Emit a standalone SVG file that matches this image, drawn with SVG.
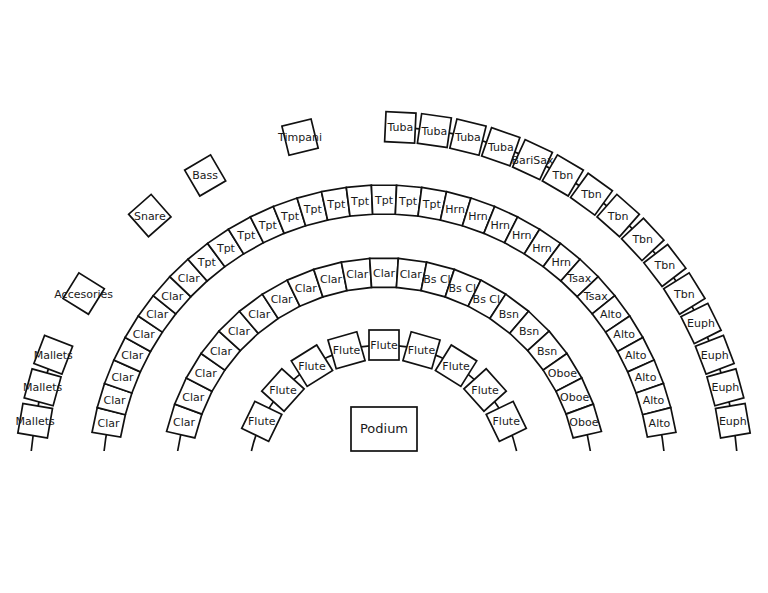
<svg xmlns="http://www.w3.org/2000/svg" xmlns:xlink="http://www.w3.org/1999/xlink" width="768" height="593" viewBox="0 0 768 593">
<style>
.bg{fill:#ffffff}
.box{fill:#ffffff;stroke:#111111;stroke-width:1.7}
.arc{fill:none;stroke:#111111;stroke-width:1.7}
.lbl{font-family:"DejaVu Sans","Liberation Sans",sans-serif;font-size:11px;fill:#1a1a1a;text-anchor:middle}
.big{font-family:"DejaVu Sans","Liberation Sans",sans-serif;font-size:13px;fill:#1a1a1a;text-anchor:middle}
</style>
<defs>
<rect id="sq1" class="box" x="369" y="330" width="30" height="30"/>
<rect id="sq4" class="box" x="369" y="112" width="30" height="30"/>
<path id="w2" class="box" d="M369.71,258.46 L398.29,258.46 L396.44,287.40 L371.56,287.40 Z"/>
<path id="w3" class="box" d="M371.40,185.27 L396.60,185.27 L395.37,214.24 L372.63,214.24 Z"/>
</defs>
<rect class="bg" x="0" y="0" width="768" height="593"/>
<g id="connectors">
<path class="arc" d="M251.4,451 A136,136 0 0 1 516.6,451"/>
<path class="arc" d="M177.67,451 A208.5,208.5 0 0 1 590.33,451"/>
<path class="arc" d="M104.1,451 A281.5,281.5 0 0 1 663.9,451"/>
<path class="arc" d="M400.31,127.38 A354,354 0 0 1 736.73,451"/>
<path class="arc" d="M31.27,451 A354,354 0 0 1 53.25,354.83"/>
</g>
<g id="podium"><rect class="box" x="351" y="407" width="66" height="44"/><text class="big" x="384" y="433">Podium</text></g>
<!-- Ring 1: Flutes -->
<g id="flute-1" transform="rotate(-64 384 481)"><use xlink:href="#sq1"/><text class="lbl" x="384" y="349" transform="rotate(64 384 345)">Flute</text></g>
<g id="flute-2" transform="rotate(-48 384 481)"><use xlink:href="#sq1"/><text class="lbl" x="384" y="349" transform="rotate(48 384 345)">Flute</text></g>
<g id="flute-3" transform="rotate(-32 384 481)"><use xlink:href="#sq1"/><text class="lbl" x="384" y="349" transform="rotate(32 384 345)">Flute</text></g>
<g id="flute-4" transform="rotate(-16 384 481)"><use xlink:href="#sq1"/><text class="lbl" x="384" y="349" transform="rotate(16 384 345)">Flute</text></g>
<g id="flute-5"><use xlink:href="#sq1"/><text class="lbl" x="384" y="349">Flute</text></g>
<g id="flute-6" transform="rotate(16 384 481)"><use xlink:href="#sq1"/><text class="lbl" x="384" y="349" transform="rotate(-16 384 345)">Flute</text></g>
<g id="flute-7" transform="rotate(32 384 481)"><use xlink:href="#sq1"/><text class="lbl" x="384" y="349" transform="rotate(-32 384 345)">Flute</text></g>
<g id="flute-8" transform="rotate(48 384 481)"><use xlink:href="#sq1"/><text class="lbl" x="384" y="349" transform="rotate(-48 384 345)">Flute</text></g>
<g id="flute-9" transform="rotate(64 384 481)"><use xlink:href="#sq1"/><text class="lbl" x="384" y="349" transform="rotate(-64 384 345)">Flute</text></g>
<!-- Ring 2 -->
<g id="r2-clar-1" transform="rotate(-73.5 384 481)"><use xlink:href="#w2"/><text class="lbl" x="384" y="276.5" transform="rotate(73.5 384 272.5)">Clar</text></g>
<g id="r2-clar-2" transform="rotate(-66.15 384 481)"><use xlink:href="#w2"/><text class="lbl" x="384" y="276.5" transform="rotate(66.15 384 272.5)">Clar</text></g>
<g id="r2-clar-3" transform="rotate(-58.8 384 481)"><use xlink:href="#w2"/><text class="lbl" x="384" y="276.5" transform="rotate(58.8 384 272.5)">Clar</text></g>
<g id="r2-clar-4" transform="rotate(-51.45 384 481)"><use xlink:href="#w2"/><text class="lbl" x="384" y="276.5" transform="rotate(51.45 384 272.5)">Clar</text></g>
<g id="r2-clar-5" transform="rotate(-44.1 384 481)"><use xlink:href="#w2"/><text class="lbl" x="384" y="276.5" transform="rotate(44.1 384 272.5)">Clar</text></g>
<g id="r2-clar-6" transform="rotate(-36.75 384 481)"><use xlink:href="#w2"/><text class="lbl" x="384" y="276.5" transform="rotate(36.75 384 272.5)">Clar</text></g>
<g id="r2-clar-7" transform="rotate(-29.4 384 481)"><use xlink:href="#w2"/><text class="lbl" x="384" y="276.5" transform="rotate(29.4 384 272.5)">Clar</text></g>
<g id="r2-clar-8" transform="rotate(-22.05 384 481)"><use xlink:href="#w2"/><text class="lbl" x="384" y="276.5" transform="rotate(22.05 384 272.5)">Clar</text></g>
<g id="r2-clar-9" transform="rotate(-14.7 384 481)"><use xlink:href="#w2"/><text class="lbl" x="384" y="276.5" transform="rotate(14.7 384 272.5)">Clar</text></g>
<g id="r2-clar-10" transform="rotate(-7.35 384 481)"><use xlink:href="#w2"/><text class="lbl" x="384" y="276.5" transform="rotate(7.35 384 272.5)">Clar</text></g>
<g id="r2-clar-11"><use xlink:href="#w2"/><text class="lbl" x="384" y="276.5">Clar</text></g>
<g id="r2-clar-12" transform="rotate(7.35 384 481)"><use xlink:href="#w2"/><text class="lbl" x="384" y="276.5" transform="rotate(-7.35 384 272.5)">Clar</text></g>
<g id="r2-bscl-1" transform="rotate(14.7 384 481)"><use xlink:href="#w2"/><text class="lbl" x="384" y="276.5" transform="rotate(-14.7 384 272.5)">Bs Cl</text></g>
<g id="r2-bscl-2" transform="rotate(22.05 384 481)"><use xlink:href="#w2"/><text class="lbl" x="384" y="276.5" transform="rotate(-22.05 384 272.5)">Bs Cl</text></g>
<g id="r2-bscl-3" transform="rotate(29.4 384 481)"><use xlink:href="#w2"/><text class="lbl" x="384" y="276.5" transform="rotate(-29.4 384 272.5)">Bs Cl</text></g>
<g id="r2-bsn-1" transform="rotate(36.75 384 481)"><use xlink:href="#w2"/><text class="lbl" x="384" y="276.5" transform="rotate(-36.75 384 272.5)">Bsn</text></g>
<g id="r2-bsn-2" transform="rotate(44.1 384 481)"><use xlink:href="#w2"/><text class="lbl" x="384" y="276.5" transform="rotate(-44.1 384 272.5)">Bsn</text></g>
<g id="r2-bsn-3" transform="rotate(51.45 384 481)"><use xlink:href="#w2"/><text class="lbl" x="384" y="276.5" transform="rotate(-51.45 384 272.5)">Bsn</text></g>
<g id="r2-oboe-1" transform="rotate(58.8 384 481)"><use xlink:href="#w2"/><text class="lbl" x="384" y="276.5" transform="rotate(-58.8 384 272.5)">Oboe</text></g>
<g id="r2-oboe-2" transform="rotate(66.15 384 481)"><use xlink:href="#w2"/><text class="lbl" x="384" y="276.5" transform="rotate(-66.15 384 272.5)">Oboe</text></g>
<g id="r2-oboe-3" transform="rotate(73.5 384 481)"><use xlink:href="#w2"/><text class="lbl" x="384" y="276.5" transform="rotate(-73.5 384 272.5)">Oboe</text></g>
<!-- Ring 3 -->
<g id="r3-clar-1" transform="rotate(-78.08 384 481)"><use xlink:href="#w3"/><text class="lbl" x="384" y="203.5" transform="rotate(78.08 384 199.5)">Clar</text></g>
<g id="r3-clar-2" transform="rotate(-73.2 384 481)"><use xlink:href="#w3"/><text class="lbl" x="384" y="203.5" transform="rotate(73.2 384 199.5)">Clar</text></g>
<g id="r3-clar-3" transform="rotate(-68.32 384 481)"><use xlink:href="#w3"/><text class="lbl" x="384" y="203.5" transform="rotate(68.32 384 199.5)">Clar</text></g>
<g id="r3-clar-4" transform="rotate(-63.44 384 481)"><use xlink:href="#w3"/><text class="lbl" x="384" y="203.5" transform="rotate(63.44 384 199.5)">Clar</text></g>
<g id="r3-clar-5" transform="rotate(-58.56 384 481)"><use xlink:href="#w3"/><text class="lbl" x="384" y="203.5" transform="rotate(58.56 384 199.5)">Clar</text></g>
<g id="r3-clar-6" transform="rotate(-53.68 384 481)"><use xlink:href="#w3"/><text class="lbl" x="384" y="203.5" transform="rotate(53.68 384 199.5)">Clar</text></g>
<g id="r3-clar-7" transform="rotate(-48.8 384 481)"><use xlink:href="#w3"/><text class="lbl" x="384" y="203.5" transform="rotate(48.8 384 199.5)">Clar</text></g>
<g id="r3-clar-8" transform="rotate(-43.92 384 481)"><use xlink:href="#w3"/><text class="lbl" x="384" y="203.5" transform="rotate(43.92 384 199.5)">Clar</text></g>
<g id="r3-tpt-1" transform="rotate(-39.04 384 481)"><use xlink:href="#w3"/><text class="lbl" x="384" y="203.5" transform="rotate(39.04 384 199.5)">Tpt</text></g>
<g id="r3-tpt-2" transform="rotate(-34.16 384 481)"><use xlink:href="#w3"/><text class="lbl" x="384" y="203.5" transform="rotate(34.16 384 199.5)">Tpt</text></g>
<g id="r3-tpt-3" transform="rotate(-29.28 384 481)"><use xlink:href="#w3"/><text class="lbl" x="384" y="203.5" transform="rotate(29.28 384 199.5)">Tpt</text></g>
<g id="r3-tpt-4" transform="rotate(-24.4 384 481)"><use xlink:href="#w3"/><text class="lbl" x="384" y="203.5" transform="rotate(24.4 384 199.5)">Tpt</text></g>
<g id="r3-tpt-5" transform="rotate(-19.52 384 481)"><use xlink:href="#w3"/><text class="lbl" x="384" y="203.5" transform="rotate(19.52 384 199.5)">Tpt</text></g>
<g id="r3-tpt-6" transform="rotate(-14.64 384 481)"><use xlink:href="#w3"/><text class="lbl" x="384" y="203.5" transform="rotate(14.64 384 199.5)">Tpt</text></g>
<g id="r3-tpt-7" transform="rotate(-9.76 384 481)"><use xlink:href="#w3"/><text class="lbl" x="384" y="203.5" transform="rotate(9.76 384 199.5)">Tpt</text></g>
<g id="r3-tpt-8" transform="rotate(-4.88 384 481)"><use xlink:href="#w3"/><text class="lbl" x="384" y="203.5" transform="rotate(4.88 384 199.5)">Tpt</text></g>
<g id="r3-tpt-9"><use xlink:href="#w3"/><text class="lbl" x="384" y="203.5">Tpt</text></g>
<g id="r3-tpt-10" transform="rotate(4.88 384 481)"><use xlink:href="#w3"/><text class="lbl" x="384" y="203.5" transform="rotate(-4.88 384 199.5)">Tpt</text></g>
<g id="r3-tpt-11" transform="rotate(9.76 384 481)"><use xlink:href="#w3"/><text class="lbl" x="384" y="203.5" transform="rotate(-9.76 384 199.5)">Tpt</text></g>
<g id="r3-hrn-1" transform="rotate(14.64 384 481)"><use xlink:href="#w3"/><text class="lbl" x="384" y="203.5" transform="rotate(-14.64 384 199.5)">Hrn</text></g>
<g id="r3-hrn-2" transform="rotate(19.52 384 481)"><use xlink:href="#w3"/><text class="lbl" x="384" y="203.5" transform="rotate(-19.52 384 199.5)">Hrn</text></g>
<g id="r3-hrn-3" transform="rotate(24.4 384 481)"><use xlink:href="#w3"/><text class="lbl" x="384" y="203.5" transform="rotate(-24.4 384 199.5)">Hrn</text></g>
<g id="r3-hrn-4" transform="rotate(29.28 384 481)"><use xlink:href="#w3"/><text class="lbl" x="384" y="203.5" transform="rotate(-29.28 384 199.5)">Hrn</text></g>
<g id="r3-hrn-5" transform="rotate(34.16 384 481)"><use xlink:href="#w3"/><text class="lbl" x="384" y="203.5" transform="rotate(-34.16 384 199.5)">Hrn</text></g>
<g id="r3-hrn-6" transform="rotate(39.04 384 481)"><use xlink:href="#w3"/><text class="lbl" x="384" y="203.5" transform="rotate(-39.04 384 199.5)">Hrn</text></g>
<g id="r3-tsax-1" transform="rotate(43.92 384 481)"><use xlink:href="#w3"/><text class="lbl" x="384" y="203.5" transform="rotate(-43.92 384 199.5)">Tsax</text></g>
<g id="r3-tsax-2" transform="rotate(48.8 384 481)"><use xlink:href="#w3"/><text class="lbl" x="384" y="203.5" transform="rotate(-48.8 384 199.5)">Tsax</text></g>
<g id="r3-alto-1" transform="rotate(53.68 384 481)"><use xlink:href="#w3"/><text class="lbl" x="384" y="203.5" transform="rotate(-53.68 384 199.5)">Alto</text></g>
<g id="r3-alto-2" transform="rotate(58.56 384 481)"><use xlink:href="#w3"/><text class="lbl" x="384" y="203.5" transform="rotate(-58.56 384 199.5)">Alto</text></g>
<g id="r3-alto-3" transform="rotate(63.44 384 481)"><use xlink:href="#w3"/><text class="lbl" x="384" y="203.5" transform="rotate(-63.44 384 199.5)">Alto</text></g>
<g id="r3-alto-4" transform="rotate(68.32 384 481)"><use xlink:href="#w3"/><text class="lbl" x="384" y="203.5" transform="rotate(-68.32 384 199.5)">Alto</text></g>
<g id="r3-alto-5" transform="rotate(73.2 384 481)"><use xlink:href="#w3"/><text class="lbl" x="384" y="203.5" transform="rotate(-73.2 384 199.5)">Alto</text></g>
<g id="r3-alto-6" transform="rotate(78.08 384 481)"><use xlink:href="#w3"/><text class="lbl" x="384" y="203.5" transform="rotate(-78.08 384 199.5)">Alto</text></g>
<!-- Ring 4 left: percussion -->
<g id="mallets-1" transform="rotate(-80.2 384 481)"><use xlink:href="#sq4"/><text class="lbl" x="384" y="131" transform="rotate(80.2 384 127)">Mallets</text></g>
<g id="mallets-2" transform="rotate(-74.66 384 481)"><use xlink:href="#sq4"/><text class="lbl" x="384" y="131" transform="rotate(74.66 384 127)">Mallets</text></g>
<g id="mallets-3" transform="rotate(-69.12 384 481)"><use xlink:href="#sq4"/><text class="lbl" x="384" y="131" transform="rotate(69.12 384 127)">Mallets</text></g>
<g id="accesories" transform="rotate(-58.04 384 481)"><use xlink:href="#sq4"/><text class="lbl" x="384" y="131" transform="rotate(58.04 384 127)">Accesories</text></g>
<g id="snare" transform="rotate(-41.42 384 481)"><use xlink:href="#sq4"/><text class="lbl" x="384" y="131" transform="rotate(41.42 384 127)">Snare</text></g>
<g id="bass" transform="rotate(-30.34 384 481)"><use xlink:href="#sq4"/><text class="lbl" x="384" y="131" transform="rotate(30.34 384 127)">Bass</text></g>
<g id="timpani" transform="rotate(-13.72 384 481)"><use xlink:href="#sq4"/><text class="lbl" x="384" y="131" transform="rotate(13.72 384 127)">Timpani</text></g>
<!-- Ring 4 right: low brass -->
<g id="tuba-1" transform="rotate(2.64 384 481)"><use xlink:href="#sq4"/><text class="lbl" x="384" y="131" transform="rotate(-2.64 384 127)">Tuba</text></g>
<g id="tuba-2" transform="rotate(8.18 384 481)"><use xlink:href="#sq4"/><text class="lbl" x="384" y="131" transform="rotate(-8.18 384 127)">Tuba</text></g>
<g id="tuba-3" transform="rotate(13.72 384 481)"><use xlink:href="#sq4"/><text class="lbl" x="384" y="131" transform="rotate(-13.72 384 127)">Tuba</text></g>
<g id="tuba-4" transform="rotate(19.26 384 481)"><use xlink:href="#sq4"/><text class="lbl" x="384" y="131" transform="rotate(-19.26 384 127)">Tuba</text></g>
<g id="barisax" transform="rotate(24.8 384 481)"><use xlink:href="#sq4"/><text class="lbl" x="384" y="131" transform="rotate(-24.8 384 127)">BariSax</text></g>
<g id="tbn-1" transform="rotate(30.34 384 481)"><use xlink:href="#sq4"/><text class="lbl" x="384" y="131" transform="rotate(-30.34 384 127)">Tbn</text></g>
<g id="tbn-2" transform="rotate(35.88 384 481)"><use xlink:href="#sq4"/><text class="lbl" x="384" y="131" transform="rotate(-35.88 384 127)">Tbn</text></g>
<g id="tbn-3" transform="rotate(41.42 384 481)"><use xlink:href="#sq4"/><text class="lbl" x="384" y="131" transform="rotate(-41.42 384 127)">Tbn</text></g>
<g id="tbn-4" transform="rotate(46.96 384 481)"><use xlink:href="#sq4"/><text class="lbl" x="384" y="131" transform="rotate(-46.96 384 127)">Tbn</text></g>
<g id="tbn-5" transform="rotate(52.5 384 481)"><use xlink:href="#sq4"/><text class="lbl" x="384" y="131" transform="rotate(-52.5 384 127)">Tbn</text></g>
<g id="tbn-6" transform="rotate(58.04 384 481)"><use xlink:href="#sq4"/><text class="lbl" x="384" y="131" transform="rotate(-58.04 384 127)">Tbn</text></g>
<g id="euph-1" transform="rotate(63.58 384 481)"><use xlink:href="#sq4"/><text class="lbl" x="384" y="131" transform="rotate(-63.58 384 127)">Euph</text></g>
<g id="euph-2" transform="rotate(69.12 384 481)"><use xlink:href="#sq4"/><text class="lbl" x="384" y="131" transform="rotate(-69.12 384 127)">Euph</text></g>
<g id="euph-3" transform="rotate(74.66 384 481)"><use xlink:href="#sq4"/><text class="lbl" x="384" y="131" transform="rotate(-74.66 384 127)">Euph</text></g>
<g id="euph-4" transform="rotate(80.2 384 481)"><use xlink:href="#sq4"/><text class="lbl" x="384" y="131" transform="rotate(-80.2 384 127)">Euph</text></g>
</svg>
